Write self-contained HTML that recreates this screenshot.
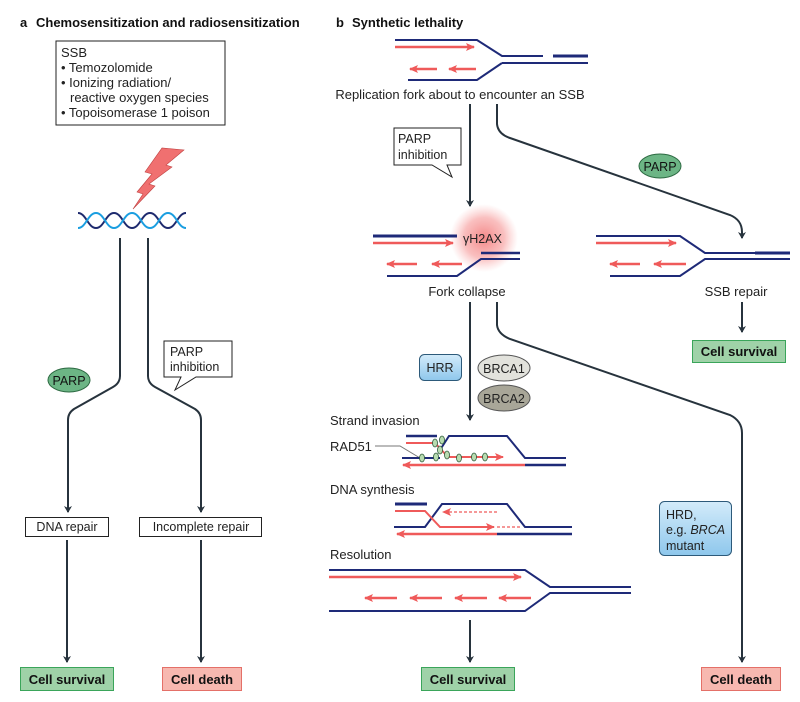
<!DOCTYPE html>
<html><head><meta charset="utf-8"><style>
body{margin:0;background:#fff}
svg{display:block;font-family:"Liberation Sans",sans-serif}
</style></head><body>
<svg width="800" height="702" viewBox="0 0 800 702" xmlns="http://www.w3.org/2000/svg">
<defs>
<marker id="ah" markerWidth="8" markerHeight="8" refX="6" refY="4" orient="auto" markerUnits="userSpaceOnUse"><path d="M0,0 L7,4 L0,8 L2,4 Z" fill="#27333d"/></marker>
<marker id="ra" markerWidth="10" markerHeight="8" refX="8" refY="4" orient="auto" markerUnits="userSpaceOnUse"><path d="M0,0 L9,4 L0,8 L2,4 Z" fill="#ef5a5a"/></marker>
<radialGradient id="halo"><stop offset="0" stop-color="#f06060" stop-opacity="0.75"/><stop offset="0.6" stop-color="#f48080" stop-opacity="0.5"/><stop offset="1" stop-color="#f8a0a0" stop-opacity="0"/></radialGradient>
<linearGradient id="bl" x1="0" y1="0" x2="0" y2="1"><stop offset="0" stop-color="#d3ebfa"/><stop offset="1" stop-color="#8ec7ec"/></linearGradient>
</defs>
<g font-size="13" fill="#111">
<text x="20" y="27" font-weight="bold">a</text><text x="36" y="27" font-weight="bold">Chemosensitization and radiosensitization</text>
<text x="336" y="27" font-weight="bold">b</text><text x="352" y="27" font-weight="bold">Synthetic lethality</text>
</g>
<rect x="56" y="41" width="169" height="84" fill="#fff" stroke="#222" stroke-width="1"/>
<g font-size="13" fill="#222">
<text x="61" y="57">SSB</text>
<text x="61" y="72">• Temozolomide</text>
<text x="61" y="87">• Ionizing radiation/</text>
<text x="70" y="102">reactive oxygen species</text>
<text x="61" y="117">• Topoisomerase 1 poison</text>
</g>
<path d="M133,209 L155,186 L149,184 L172,167 L166,165 L184,150 L162,148 L145,172 L152,174 L137,192 L143,194 Z" fill="#f07070" stroke="#c04040" stroke-width="0.6"/>
<path d="M78,213 C86,213 88,228 96,228 S106,213 114,213 S124,228 132,228 S142,213 150,213 S160,228 168,228 S178,213 186,213" fill="none" stroke="#1e2a6e" stroke-width="2"/>
<path d="M78,228 C86,228 88,213 96,213 S106,228 114,228 S124,213 132,213 S142,228 150,228 S160,213 168,213 S178,228 186,228" fill="none" stroke="#1a9ee0" stroke-width="2"/>
<g fill="none" stroke="#27333d" stroke-width="2">
<path d="M120,238 L120,376 Q120,383 113,387 L74,409 Q68,413 68,420 L68,512" marker-end="url(#ah)"/>
<path d="M148,238 L148,376 Q148,383 155,387 L195,409 Q201,413 201,420 L201,512" marker-end="url(#ah)"/>
<path d="M67,540 L67,662" marker-end="url(#ah)"/>
<path d="M201,540 L201,662" marker-end="url(#ah)"/>
</g>
<ellipse cx="69" cy="380" rx="21" ry="12" fill="#6cb585" stroke="#2d6a42"/>
<text x="69" y="385" font-size="12.5" text-anchor="middle" fill="#111">PARP</text>
<path d="M164,341 L232,341 L232,377 L196,377 L175,390 L181,377 L164,377 Z" fill="#fff" stroke="#222"/>
<text x="170" y="356" font-size="12.5" fill="#222">PARP</text><text x="170" y="371" font-size="12.5" fill="#222">inhibition</text>
<rect x="25.5" y="517.5" width="83" height="19" fill="#fff" stroke="#222"/>
<text x="67" y="531" font-size="12.5" text-anchor="middle" fill="#222">DNA repair</text>
<rect x="139.5" y="517.5" width="122" height="19" fill="#fff" stroke="#222"/>
<text x="201" y="531" font-size="12.5" text-anchor="middle" fill="#222">Incomplete repair</text>
<rect x="20.5" y="667.5" width="93" height="23" fill="#9fd2a8" stroke="#3aa55a"/>
<text x="67" y="684" font-size="13" font-weight="bold" text-anchor="middle" fill="#111">Cell survival</text>
<rect x="162.5" y="667.5" width="79" height="23" fill="#f7b8b0" stroke="#e47068"/>
<text x="202" y="684" font-size="13" font-weight="bold" text-anchor="middle" fill="#111">Cell death</text>

<g fill="none" stroke="#1e2a78" stroke-width="2">
<path d="M395,40 L477,40 L502,56 L543,56"/>
<path d="M553,56 L588,56" stroke-width="3"/>
<path d="M502,63 L588,63"/>
<path d="M408,80 L477,80 L502,63"/>
</g>
<g fill="none" stroke="#ef5a5a" stroke-width="2.5">
<path d="M395,47 L474,47" marker-end="url(#ra)"/>
<path d="M437,69 L410,69" marker-end="url(#ra)"/>
<path d="M476,69 L449,69" marker-end="url(#ra)"/>
</g>
<text x="460" y="99" font-size="13" text-anchor="middle" fill="#222">Replication fork about to encounter an SSB</text>
<g fill="none" stroke="#27333d" stroke-width="2">
<path d="M470,104 L470,206" marker-end="url(#ah)"/>
<path d="M497,104 L497,124 Q498,134 510,138 L730,215 Q742,220 742,232 L742,238" marker-end="url(#ah)"/>
</g>
<path d="M394,128 L461,128 L461,165 L447,165 L452,177 L432,165 L394,165 Z" fill="#fff" stroke="#222"/>
<text x="398" y="143" font-size="12.5" fill="#222">PARP</text><text x="398" y="159" font-size="12.5" fill="#222">inhibition</text>
<ellipse cx="660" cy="166" rx="21" ry="12" fill="#6cb585" stroke="#2d6a42"/>
<text x="660" y="171" font-size="12.5" text-anchor="middle" fill="#111">PARP</text>

<circle cx="484" cy="238" r="34" fill="url(#halo)"/>
<g fill="none" stroke="#1e2a78" stroke-width="2">
<path d="M373,236 L457,236" stroke-width="3"/>
<path d="M481,253 L520,253" stroke-width="2.5"/>
<path d="M520,259 L481,259 L457,276 L387,276"/>
</g>
<g fill="none" stroke="#ef5a5a" stroke-width="2.5">
<path d="M373,243 L453,243" marker-end="url(#ra)"/>
<path d="M417,264 L387,264" marker-end="url(#ra)"/>
<path d="M462,264 L432,264" marker-end="url(#ra)"/>
</g>
<text x="463" y="243" font-size="12.5" fill="#222">γH2AX</text>
<text x="467" y="296" font-size="13" text-anchor="middle" fill="#222">Fork collapse</text>

<g fill="none" stroke="#1e2a78" stroke-width="2">
<path d="M596,236 L680,236 L705,253 L790,253"/>
<path d="M755,253 L790,253" stroke-width="3"/>
<path d="M790,259 L705,259 L680,276 L610,276"/>
</g>
<g fill="none" stroke="#ef5a5a" stroke-width="2.5">
<path d="M596,243 L676,243" marker-end="url(#ra)"/>
<path d="M640,264 L610,264" marker-end="url(#ra)"/>
<path d="M686,264 L654,264" marker-end="url(#ra)"/>
</g>
<text x="736" y="296" font-size="13" text-anchor="middle" fill="#222">SSB repair</text>
<path d="M742,302 L742,332" fill="none" stroke="#27333d" stroke-width="2" marker-end="url(#ah)"/>
<rect x="692.5" y="340.5" width="93" height="22" fill="#9fd2a8" stroke="#3aa55a"/>
<text x="739" y="356" font-size="13" font-weight="bold" text-anchor="middle" fill="#111">Cell survival</text>

<g fill="none" stroke="#27333d" stroke-width="2">
<path d="M470,302 L470,420" marker-end="url(#ah)"/>
<path d="M497,302 L497,325 Q498,334 510,339 L730,415 Q742,421 742,433 L742,662" marker-end="url(#ah)"/>
<path d="M470,620 L470,662" marker-end="url(#ah)"/>
</g>
<rect x="419.5" y="354.5" width="42" height="26" rx="5" fill="url(#bl)" stroke="#2d5a7a"/>
<text x="440" y="372" font-size="12.5" text-anchor="middle" fill="#222">HRR</text>
<ellipse cx="504" cy="368" rx="26" ry="13" fill="#e2e2dc" stroke="#555"/>
<text x="504" y="373" font-size="12.5" text-anchor="middle" fill="#222">BRCA1</text>
<ellipse cx="504" cy="398" rx="26" ry="13" fill="#a8a698" stroke="#555"/>
<text x="504" y="403" font-size="12.5" text-anchor="middle" fill="#222">BRCA2</text>

<text x="330" y="425" font-size="13" fill="#222">Strand invasion</text>
<text x="330" y="451" font-size="13" fill="#222">RAD51</text>
<path d="M375,446 L400,446 L420,458" fill="none" stroke="#777" stroke-width="1"/>
<g fill="none" stroke="#1e2a78" stroke-width="2">
<path d="M406,436 L437,436" stroke-width="2.5"/>
<path d="M440,450 L449,436 L507,436 L525,458 L566,458"/>
<path d="M402,458 L440,458"/>
<path d="M525,465 L566,465" stroke-width="2.5"/>
</g>
<g fill="none" stroke="#ef5a5a" stroke-width="2">
<path d="M406,443 L435,443 L448,457 L503,457" marker-end="url(#ra)"/>
<path d="M525,465 L403,465" stroke-width="2.5" marker-end="url(#ra)"/>
</g>
<g fill="#b8dcb0" stroke="#2e5a3a" stroke-width="0.8">
<ellipse cx="422" cy="458" rx="2.5" ry="4"/><ellipse cx="436" cy="457" rx="2.5" ry="4"/>
<ellipse cx="435" cy="443" rx="2.5" ry="4"/><ellipse cx="442" cy="440" rx="2.5" ry="4"/>
<ellipse cx="440" cy="450" rx="2.5" ry="4"/><ellipse cx="447" cy="455" rx="2.5" ry="4"/>
<ellipse cx="459" cy="458" rx="2.5" ry="4"/><ellipse cx="474" cy="457" rx="2.5" ry="4"/>
<ellipse cx="485" cy="457" rx="2.5" ry="4"/>
</g>

<text x="330" y="494" font-size="13" fill="#222">DNA synthesis</text>
<g fill="none" stroke="#1e2a78" stroke-width="2">
<path d="M395,504 L427,504" stroke-width="3"/>
<path d="M394,527 L425,527 L442,504 L507,504 L525,527 L572,527"/>
<path d="M497,534 L572,534" stroke-width="2.5"/>
</g>
<g fill="none" stroke="#ef5a5a" stroke-width="2">
<path d="M395,511 L425,511 L440,527 L494,527" marker-end="url(#ra)"/>
<path d="M497,512 L443,512" stroke-dasharray="3,2" stroke-width="1.2" marker-end="url(#ra)"/>
<path d="M497,527 L520,527" stroke-dasharray="3,2" stroke-width="1.2"/>
<path d="M497,534 L397,534" stroke-width="2.5" marker-end="url(#ra)"/>
</g>

<text x="330" y="559" font-size="13" fill="#222">Resolution</text>
<g fill="none" stroke="#1e2a78" stroke-width="2">
<path d="M329,570 L525,570 L550,587 L631,587"/>
<path d="M631,593 L550,593 L525,611 L329,611"/>
</g>
<g fill="none" stroke="#ef5a5a" stroke-width="2.5">
<path d="M329,577 L521,577" marker-end="url(#ra)"/>
<path d="M397,598 L365,598" marker-end="url(#ra)"/>
<path d="M442,598 L410,598" marker-end="url(#ra)"/>
<path d="M487,598 L455,598" marker-end="url(#ra)"/>
<path d="M531,598 L499,598" marker-end="url(#ra)"/>
</g>
<rect x="421.5" y="667.5" width="93" height="23" fill="#9fd2a8" stroke="#3aa55a"/>
<text x="468" y="684" font-size="13" font-weight="bold" text-anchor="middle" fill="#111">Cell survival</text>
<rect x="701.5" y="667.5" width="79" height="23" fill="#f7b8b0" stroke="#e47068"/>
<text x="741" y="684" font-size="13" font-weight="bold" text-anchor="middle" fill="#111">Cell death</text>

<rect x="659.5" y="501.5" width="72" height="54" rx="5" fill="url(#bl)" stroke="#2d5a7a"/>
<g font-size="12.5" fill="#222"><text x="666" y="519">HRD,</text><text x="666" y="534">e.g. <tspan font-style="italic">BRCA</tspan></text><text x="666" y="550">mutant</text></g>
</svg>
</body></html>
